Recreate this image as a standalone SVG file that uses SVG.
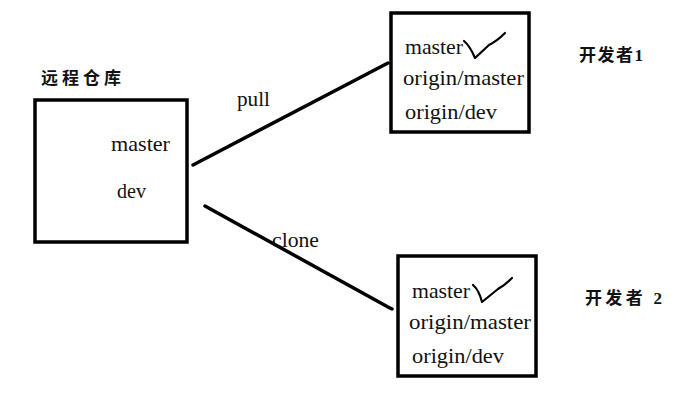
<svg xmlns="http://www.w3.org/2000/svg" width="692" height="406" viewBox="0 0 692 406">
<style>
.box{fill:#fff;stroke:#000;stroke-width:3.5}
.t{font-family:"Liberation Serif","Times New Roman",serif;font-size:21px;fill:#111}
.cjk{font-family:"Liberation Serif","Noto Sans CJK SC",serif;font-size:17px;font-weight:bold;fill:#111}
.ln{stroke:#000;stroke-width:3.5;fill:none;stroke-linecap:round}
.chk{stroke:#000;stroke-width:2.2;fill:none;stroke-linecap:round;stroke-linejoin:round}
</style>
<rect width="692" height="406" fill="#fff"/>
<g id="connectors">
<path class="ln" d="M193,165 L388,63"/>
<path class="ln" d="M205,206 L388,307 L392,309"/>
<text class="t" x="237" y="106" textLength="33" lengthAdjust="spacingAndGlyphs">pull</text>
<text class="t" x="272" y="247" textLength="47" lengthAdjust="spacingAndGlyphs">clone</text>
</g>
<g id="remote">
<text class="cjk" x="41" y="84" letter-spacing="4">远程仓库</text>
<rect class="box" x="35" y="100" width="152" height="142"/>
<text class="t" x="111" y="151" textLength="59" lengthAdjust="spacingAndGlyphs">master</text>
<text class="t" x="117" y="198" textLength="29" lengthAdjust="spacingAndGlyphs">dev</text>
</g>
<g id="dev1">
<rect class="box" x="391" y="13" width="138" height="119"/>
<text class="t" x="405" y="54" textLength="58" lengthAdjust="spacingAndGlyphs">master</text>
<path class="chk" d="M464,41 Q470,46 475,58 L489,45 Q497,41 505,33"/>
<text class="t" x="403" y="85" textLength="121" lengthAdjust="spacingAndGlyphs">origin/master</text>
<text class="t" x="405" y="119" textLength="92" lengthAdjust="spacingAndGlyphs">origin/dev</text>
<text class="cjk" x="579" y="61" letter-spacing="1.5">开发者1</text>
</g>
<g id="dev2">
<rect class="box" x="398" y="256" width="138" height="120"/>
<text class="t" x="412" y="298" textLength="58" lengthAdjust="spacingAndGlyphs">master</text>
<path class="chk" d="M473,285 Q479,290 482,302 L498,289 Q505,285 512,278"/>
<text class="t" x="409" y="329" textLength="122" lengthAdjust="spacingAndGlyphs">origin/master</text>
<text class="t" x="412" y="363" textLength="92" lengthAdjust="spacingAndGlyphs">origin/dev</text>
<text class="cjk" x="585" y="304" textLength="77" lengthAdjust="spacing">开发者 2</text>
</g>
</svg>
